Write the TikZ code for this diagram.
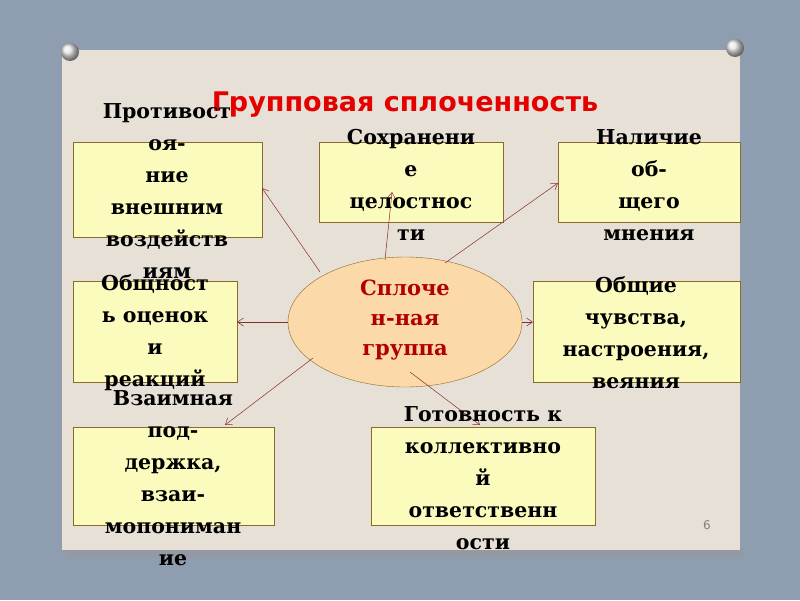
\documentclass[tikz,border=0pt]{standalone}
\usepackage{fontspec}
\setmainfont{DejaVu Serif}
\newfontfamily\titlefont{DejaVu Sans}
\usetikzlibrary{arrows.meta,shapes.geometric}
\definecolor{bg}{HTML}{8E9DB0}
\definecolor{paper}{HTML}{E6E0D6}
\definecolor{boxfill}{HTML}{FBFBBE}
\definecolor{boxline}{HTML}{8B6B2A}
\definecolor{arr}{HTML}{8B2B2B}
\definecolor{ellfill}{HTML}{FBD9A8}
\begin{document}
\begin{tikzpicture}[x=1pt,y=-1pt,
  box/.style={draw=boxline,fill=boxfill,line width=0.8pt},
  lbl/.style={align=center,font=\bfseries\fontsize{20.5}{32}\selectfont,inner sep=0pt},
  con/.style={draw=arr,line width=0.5pt,-{Straight Barb[length=6pt,width=8pt]}}]
\useasboundingbox (0,0) rectangle (800,600);
\fill[bg] (0,0) rectangle (800,600);
\fill[black!40,opacity=0.5] (66,548) rectangle (744,558);
\fill[paper] (62,50) rectangle (740,550);
\foreach \p in {(70,52),(735,48)}{\shade[ball color=white!80!gray] \p circle (9);}
\node[font=\titlefont\bfseries\fontsize{27}{30}\selectfont,text=red!90!black] (title) at (405,105) {Групповая сплоченность};
\node[box,minimum width=189,minimum height=95] (b1) at (167.5,189.5) {};
\node[box,minimum width=184,minimum height=80] (b2) at (411,182) {};
\node[box,minimum width=182,minimum height=80] (b3) at (649,182) {};
\node[box,minimum width=164,minimum height=101] (b4) at (155,331.5) {};
\node[box,minimum width=207,minimum height=101] (b5) at (636.5,331.5) {};
\node[box,minimum width=201,minimum height=98] (b6) at (173.5,476) {};
\node[box,minimum width=224,minimum height=98] (b7) at (483,476) {};
\node[ellipse,draw=boxline,fill=ellfill,minimum width=234,minimum height=130,inner sep=0pt] (e) at (405,322) {};
\draw[con] (320,272) -- (262,188);
\draw[con] (385,260) -- (392,192);
\draw[con] (445,263) -- (558,183);
\draw[con] (288,322) -- (237,322);
\draw[con] (522,322) -- (533,322);
\draw[con] (313,358) -- (225,425);
\draw[con] (410,372) -- (480,425);
\node[lbl] (t1) at (167,191) {Противост\\оя-\\ние\\внешним\\воздейств\\иям};
\node[lbl] (t2) at (411,185) {Сохранени\\е\\целостнос\\ти};
\node[lbl] (t3) at (649,185) {Наличие\\об-\\щего\\мнения};
\node[lbl] (t4) at (155,333) {Общност\\ь оценок\\и\\реакций};
\node[lbl] (t5) at (636,333) {Общие\\чувства,\\настроения,\\веяния};
\node[lbl] (t6) at (173,478) {Взаимная\\под-\\держка,\\взаи-\\мопониман\\ие};
\node[lbl] (t7) at (483,478) {Готовность к\\коллективно\\й\\ответственн\\ости};
\node[lbl,text=red!70!black,font=\bfseries\fontsize{21}{30}\selectfont] (te) at (405,320) {Сплоче\\н-ная\\группа};
\node[font=\titlefont\fontsize{12}{14}\selectfont,text=gray] (pg) at (707,525) {6};
\end{tikzpicture}
\end{document}
